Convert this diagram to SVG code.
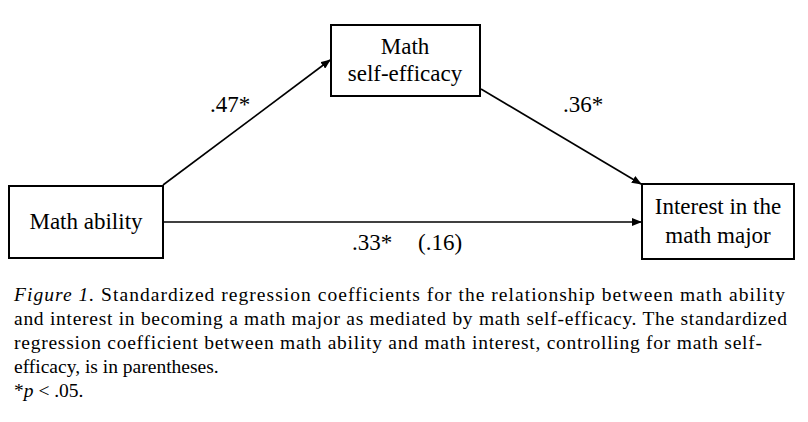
<svg xmlns="http://www.w3.org/2000/svg" width="808" height="422" viewBox="0 0 808 422">
<style>
.box{fill:#fff;stroke:#000;stroke-width:2}
.t{font-family:"Liberation Serif",serif;font-size:23px;fill:#000}
.c{font-family:"Liberation Serif",serif;font-size:19.5px;fill:#000}
.ln{stroke:#000;stroke-width:1.6;fill:none;marker-end:url(#ah)}
</style>
<defs><marker id="ah" markerWidth="10" markerHeight="8" refX="9" refY="4" orient="auto" markerUnits="userSpaceOnUse"><path d="M0,0 L10,4 L0,8 Z" fill="#000"/></marker></defs>
<rect width="808" height="422" fill="#fff"/>
<g id="connectors">
<line class="ln" x1="163" y1="185" x2="330" y2="60"/>
<line class="ln" x1="481" y1="89" x2="641" y2="184"/>
<line class="ln" x1="164" y1="222" x2="641" y2="222"/>
<text class="t" x="210" y="112">.47*</text>
<text class="t" x="563" y="112">.36*</text>
<text class="t" x="352" y="250">.33*</text>
<text class="t" x="418" y="250">(.16)</text>
</g>
<g id="ability"><rect class="box" x="9" y="186" width="154" height="72"/><text class="t" x="86" y="229" text-anchor="middle">Math ability</text></g>
<g id="efficacy"><rect class="box" x="331" y="25" width="149" height="71"/><text class="t" x="405" y="54" text-anchor="middle">Math</text><text class="t" x="405" y="81" text-anchor="middle">self-efficacy</text></g>
<g id="interest"><rect class="box" x="642" y="184" width="152" height="75"/><text class="t" x="718" y="214" text-anchor="middle">Interest in the</text><text class="t" x="718" y="243" text-anchor="middle">math major</text></g>
<g id="caption">
<text class="c" x="14" y="301" textLength="771" lengthAdjust="spacing"><tspan font-style="italic">Figure 1.</tspan> Standardized regression coefficients for the relationship between math ability</text>
<text class="c" x="14" y="325" textLength="773" lengthAdjust="spacing">and interest in becoming a math major as mediated by math self-efficacy. The standardized</text>
<text class="c" x="14" y="349" textLength="748" lengthAdjust="spacing">regression coefficient between math ability and math interest, controlling for math self-</text>
<text class="c" x="14" y="373">efficacy, is in parentheses.</text>
<text class="c" x="14" y="397">*<tspan font-style="italic">p</tspan> &lt; .05.</text>
</g>
</svg>
